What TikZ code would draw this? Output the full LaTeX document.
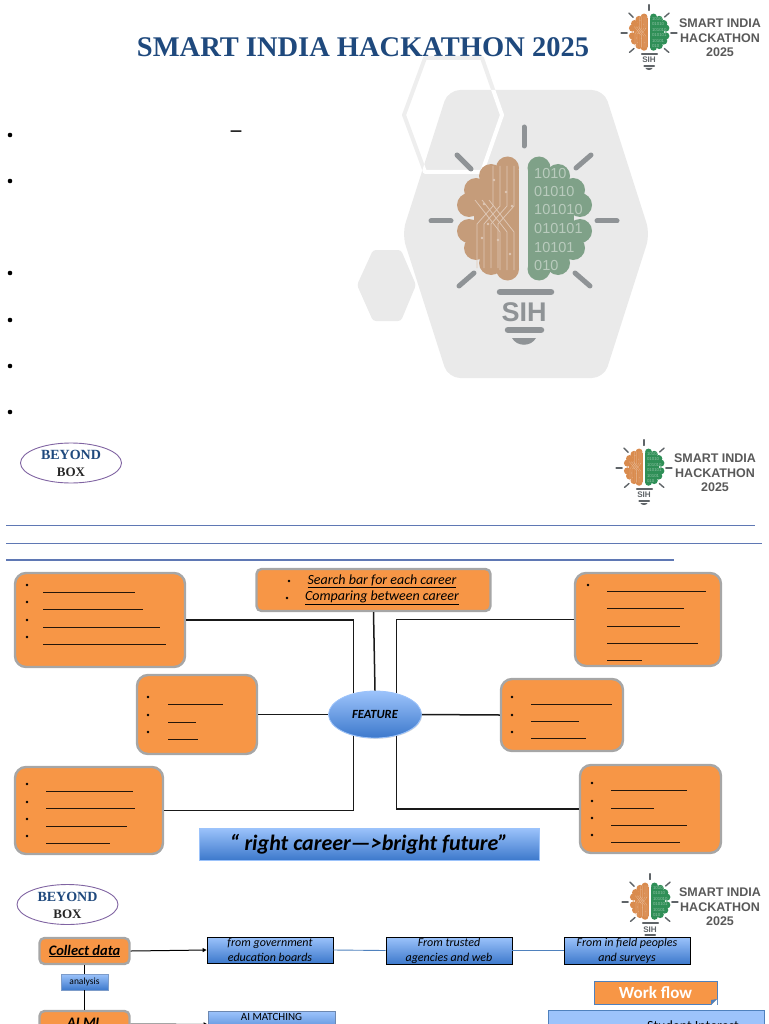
\documentclass[tikz,border=0pt]{standalone}
\usepackage{fontspec}
\setmainfont{Carlito}
\newfontfamily\titlefont{Liberation Serif}
\newfontfamily\logofont{Liberation Sans}
\usetikzlibrary{arrows.meta}
\usetikzlibrary{shapes.geometric}
\usetikzlibrary{shadows}

\definecolor{sliceorange}{HTML}{F79646}
\definecolor{boxrim}{HTML}{A6A6A6}
\definecolor{titleblue}{HTML}{1F497D}
\definecolor{rulerblue}{HTML}{5F78B4}
\definecolor{linkblue}{HTML}{4F81BD}
\definecolor{skyblue}{HTML}{9CC3FB}
\definecolor{deepblue}{HTML}{3D79CC}
\definecolor{hexgrey}{HTML}{EAEAEA}
\definecolor{ovalpurple}{HTML}{8064A2}
\definecolor{tanbrain}{HTML}{C59C7A}
\definecolor{sagebrain}{HTML}{7FA188}
\definecolor{greyray}{HTML}{8F9396}
\definecolor{orangebrain}{HTML}{D98B4E}
\definecolor{greenbrain}{HTML}{2F8F57}
\definecolor{darkray}{HTML}{5F6468}

\tikzset{
  orangebox/.style={draw=boxrim, line width=2.4pt, fill=sliceorange, rounded corners=11pt, inner sep=0pt},
  smallorange/.style={orangebox, rounded corners=5pt},
  bluebox/.style={draw=#1, line width=.8pt, top color=skyblue, bottom color=deepblue, inner sep=0pt, align=center,
    drop shadow={shadow xshift=.6pt, shadow yshift=-.8pt, opacity=.3}},
  blankline/.style={line width=.9pt, black!85!sliceorange},
  wire/.style={line width=1.5pt, black!90},
  teamoval/.style={ellipse, draw=ovalpurple, line width=.9pt, minimum width=101pt, minimum height=40pt, inner sep=0pt},
  pics/sihbulb/.style n args={4}{code={
    % left half circuits, right half digits
    \foreach \cx/\cy/\cr in {-16.5/-50/11.5,-33/-42/12,-48/-28/12,-55/-13/12,-55/13/12,-48/30/12,-33/45/12,-16.5/51/11.5}
      \fill[#1] (\cx,\cy) circle (\cr);
    \fill[#1] (-50,-30) rectangle (-10,30);
    \fill[#1] (-38,-48) rectangle (-5,50);
    \foreach \cx/\cy/\cr in {15/-50/11.5,34/-42/12,49/-28/12,56/-13/12,56/13/12,49/30/12,34/45/12,15/51/11.5}
      \fill[#2] (\cx,\cy) circle (\cr);
    \fill[#2] (50,-30) rectangle (11,30);
    \fill[#2] (39,-48) rectangle (3.5,50);
    \foreach \cx in {-10,-17,-24,-31}
      \draw[white!45!#1, line width=#4*.15pt] (\cx,-52) -- (\cx,-12) -- (\cx-16,6) -- (\cx-16,50);
    \foreach \cx in {-10,-17,-24}
      \draw[white!45!#1, line width=#4*.15pt] (\cx,52) -- (\cx,14) -- (\cx-25,-18);
    \foreach \cx/\cy in {-30/-38,-18/-26,-12/-12,-40/-14,-36/6,-26/22,-14/36,-42/20}
      \fill[white!45!#1] (\cx,\cy) circle (1.3);
    \foreach \ry/\rd in {-44/1010,-26/01010,-8/101010,11/010101,30/10101,48/010}
      \node[anchor=west, inner sep=0pt, text=white!45!#2, font=\logofont\fontsize{14.5}{14.5}\selectfont] at (10,\ry) {\rd};
    \foreach \ax/\ay/\bx/\by in {0/-91/0/-72,-67/-63/-53/-49,67/-63/52/-50,-93/3/-73/3,93/3/73/3,-50/55/-65/68,51/55/66/68}
      \draw[#3, line width=#4 pt, line cap=round] (\ax,\ay) -- (\bx,\by);
    \draw[#3, line width=#4*1.3pt, line cap=round] (-24,74) -- (27,74);
    \node[text=#3, inner sep=0pt, font=\logofont\bfseries\fontsize{27}{27}\selectfont] at (0,94) {SIH};
    \draw[#3, line width=#4*1.3pt, line cap=round] (-16,112) -- (17,112);
    \fill[#3] (-12,120) .. controls (-7,129) and (7,129) .. (12,120) -- cycle;
  }},
  logotext/.style={text=black!65, align=center, inner sep=0pt, font=\logofont\bfseries\fontsize{12.5}{14.5}\selectfont},
  beyondtext/.style={text=titleblue, inner sep=0pt, font=\titlefont\bfseries\fontsize{14}{14}\selectfont},
  boxword/.style={text=black!85, inner sep=0pt, font=\titlefont\bfseries\fontsize{13}{13}\selectfont},
}

\begin{document}
\begin{tikzpicture}[x=1pt, y=-1pt]
%  logo oval ........... logo
%  ---------- three rules ----------
%  box ---+   search box   +--- box
%  box ---+--- FEATURE  ---+--- box
%  box ---+                +--- box
%  collect -> from -- from -- from
\useasboundingbox (0,0) rectangle (768,1024);
\clip (0,0) rectangle (768,1024);

% first slide
\node[inner sep=0pt, text=titleblue, font=\titlefont\bfseries\fontsize{28.5}{28.5}\selectfont] (slidetitle) at (363,47) {SMART INDIA HACKATHON 2025};
\draw[hexgrey!80!white, line width=4pt, line join=round] (425,58) -- (482,58) -- (502,115) -- (482,172) -- (425,172) -- (404,115) -- cycle;
\fill[hexgrey, rounded corners=12pt] (448,90) -- (604,90) -- (650,234) -- (604,378) -- (448,378) -- (402,234) -- cycle;
\begin{scope}
  \clip[rounded corners=12pt] (448,90) -- (604,90) -- (650,234) -- (604,378) -- (448,378) -- (402,234) -- cycle;
  \draw[white, line width=4pt, line join=round] (425,58) -- (482,58) -- (502,115) -- (482,172) -- (425,172) -- (404,115) -- cycle;
\end{scope}
\fill[hexgrey, rounded corners=3pt] (373,250) -- (401,250) -- (416,285) -- (401,321) -- (373,321) -- (357,285) -- cycle;
\pic at (524,218) {sihbulb={tanbrain}{sagebrain}{greyray}{5}};
\foreach \by in {135,181,273,320,366,412}
  \fill (10,\by) circle (2.3);
\node[inner sep=0pt, font=\titlefont\bfseries\fontsize{21}{21}\selectfont] (slidedash) at (236,134) {–};

% logos
\pic[scale=.3, transform shape] at (649,32) {sihbulb={orangebrain}{greenbrain}{darkray}{1.4}};
\node[logotext] (logotxtA) at (720,38) {SMART INDIA\\HACKATHON\\2025};
\pic[scale=.3, transform shape] at (644,467) {sihbulb={orangebrain}{greenbrain}{darkray}{1.4}};
\node[logotext] (logotxtB) at (715,473) {SMART INDIA\\HACKATHON\\2025};
\pic[scale=.3, transform shape] at (650,901) {sihbulb={orangebrain}{greenbrain}{darkray}{1.4}};
\node[logotext] (logotxtC) at (720,907) {SMART INDIA\\HACKATHON\\2025};

\node[teamoval] (teamA) at (71,463) {};
\node[beyondtext] (beyondA) at (71,455) {BEYOND};
\node[boxword] (boxwordA) at (71,472) {BOX};
\node[teamoval] (teamB) at (67.5,904.5) {};
\node[beyondtext] (beyondB) at (67.5,897) {BEYOND};
\node[boxword] (boxwordB) at (67.5,914) {BOX};

% rules
\draw[rulerblue, line width=.8pt]  (6,525) -- (755,525);
\draw[rulerblue, line width=.8pt]  (6,543) -- (762,543);
\draw[rulerblue, line width=1.1pt] (6,560) -- (674,560);

% feature boxes
\node[orangebox, minimum width=170pt, minimum height=94pt] (boxA) at (100,620) {};
\node[smallorange, minimum width=234pt, minimum height=42pt] (boxB) at (373.5,590) {};
\node[orangebox, minimum width=146pt, minimum height=93pt] (boxC) at (648,619.5) {};
\node[orangebox, minimum width=120pt, minimum height=79pt] (boxD) at (197,714.5) {};
\node[orangebox, minimum width=122pt, minimum height=72pt] (boxE) at (562,715) {};
\node[orangebox, minimum width=148pt, minimum height=87pt] (boxF) at (89,810.5) {};
\node[orangebox, minimum width=141pt, minimum height=88pt] (boxG) at (650.5,809) {};

\node[ellipse, bluebox=skyblue, minimum width=93pt, minimum height=47pt] (feature) at (375,714.5) {\fontsize{12.5}{12.5}\selectfont\bfseries\itshape FEATURE};

\draw[wire] (boxA.east) -| (feature.135);
\draw[wire] (boxB.south) -- (feature.north);
\draw[wire] (boxC.west) -| (feature.45);
\draw[wire] (boxD.east) -- (feature.west);
\draw[wire] (boxE.west) -- (feature.east);
\draw[wire] (boxF.east) -| (feature.225);
\draw[wire] (boxG.west) -| (feature.315);

% bullets and blank rows
\foreach \by in {585,602,620,637}
  \fill (27,\by) circle (1.3);
\foreach \le/\ly in {135/592,143/609.7,160/627,166/644}
  \draw[blankline] (43,\ly) -- (\le,\ly);
\fill (588,585) circle (1.3);
\foreach \le/\ly in {706/591,684/608,680/626,698/643,642/660}
  \draw[blankline] (607,\ly) -- (\le,\ly);
\foreach \by in {697,715,732}
  \fill (148,\by) circle (1.3);
\foreach \le/\ly in {223/704,196/722,198/739}
  \draw[blankline] (168,\ly) -- (\le,\ly);
\foreach \by in {697,715,732}
  \fill (512,\by) circle (1.3);
\foreach \le/\ly in {612/704,579/721,586/738}
  \draw[blankline] (531,\ly) -- (\le,\ly);
\foreach \by in {784,802,819,836}
  \fill (27,\by) circle (1.3);
\foreach \le/\ly in {133/791,135/808,127/826,110/843}
  \draw[blankline] (46,\ly) -- (\le,\ly);
\foreach \by in {783,801,818,835}
  \fill (592,\by) circle (1.3);
\foreach \le/\ly in {687/790,654/808,687/825,680/842}
  \draw[blankline] (611,\ly) -- (\le,\ly);

% search box text
\fill (289,581) circle (1.3);
\fill (287,598) circle (1.3);
\node[inner sep=0pt, font=\fontsize{14}{14}\selectfont\itshape] (searchrow) at (382,581) {\underline{Search bar for each career}};
\node[inner sep=0pt, font=\fontsize{14}{14}\selectfont\itshape] (comparerow) at (382,598) {\underline{Comparing between career}};

\node[bluebox=skyblue, minimum width=340pt, minimum height=32pt] (slogan) at (369,844) {\fontsize{22}{22}\selectfont\bfseries\itshape “ right career--->bright future”};

% work flow
\node[smallorange, minimum width=90pt, minimum height=26pt] (collect) at (84.5,951) {\fontsize{14.5}{14.5}\selectfont\bfseries\itshape\underline{Collect data}};
\node[smallorange, minimum width=90pt, minimum height=26pt] (aiml) at (84.5,1024) {\fontsize{14.5}{14.5}\selectfont\bfseries\itshape\underline{AI ML}};
\node[bluebox=skyblue!80!black, minimum width=47pt, minimum height=16pt] (analysis) at (84.5,982) {\fontsize{9.5}{9.5}\selectfont analysis};
\node[bluebox=black, minimum width=126pt, minimum height=26pt, font=\fontsize{12}{15}\selectfont\itshape] (fromgov) at (270,950) {from government\\education boards};
\node[bluebox=black, minimum width=126pt, minimum height=27pt, font=\fontsize{12}{15}\selectfont\itshape] (fromweb) at (449,950.5) {From trusted\\agencies and web};
\node[bluebox=black, minimum width=126pt, minimum height=27pt, font=\fontsize{12}{15}\selectfont\itshape] (fromfield) at (627,950.5) {From in field peoples\\and surveys};
\node[bluebox=skyblue!70!black, minimum width=127pt, minimum height=26pt, anchor=north] (aimatch) at (271.5,1011) {};
\node[inner sep=0pt, font=\fontsize{11}{11}\selectfont] (aimatchtxt) at (271.5,1017) {AI MATCHING};

\draw[black, line width=1pt] (collect.south) -- (analysis.north);
\draw[black, line width=1pt] (analysis.south) -- (aiml.north);
\draw[black, line width=1pt, arrows={-Triangle[length=4pt, width=4pt]}] (collect.east) -- (fromgov.west);
\draw[black, line width=1pt, arrows={-Triangle[length=4pt, width=4pt]}] (aiml.east) -- (aimatch.west);
\draw[linkblue, line width=.9pt] (fromgov.east) -- (fromweb.west);
\draw[linkblue, line width=.9pt] (fromweb.east) -- (fromfield.west);

\node[fill=sliceorange, draw=linkblue, line width=.6pt, minimum width=123pt, minimum height=23pt, inner sep=0pt, text=white, font=\fontsize{17}{17}\selectfont\bfseries] (workflow) at (655.5,992.5) {Work flow};
\fill[white] (717,999) -- (717,1005) -- (711,1005) -- cycle;
\fill[linkblue] (717,999) -- (711,1000) -- (711,1005) -- cycle;
\node[draw=linkblue, line width=.8pt, fill=skyblue, minimum width=216pt, minimum height=30pt, inner sep=0pt, anchor=north west] (studentbox) at (548,1010) {};
\node[inner sep=0pt, font=\fontsize{14}{14}\selectfont, anchor=base] (studenttxt) at (693,1030) {Student Interest};
\end{tikzpicture}
\end{document}
